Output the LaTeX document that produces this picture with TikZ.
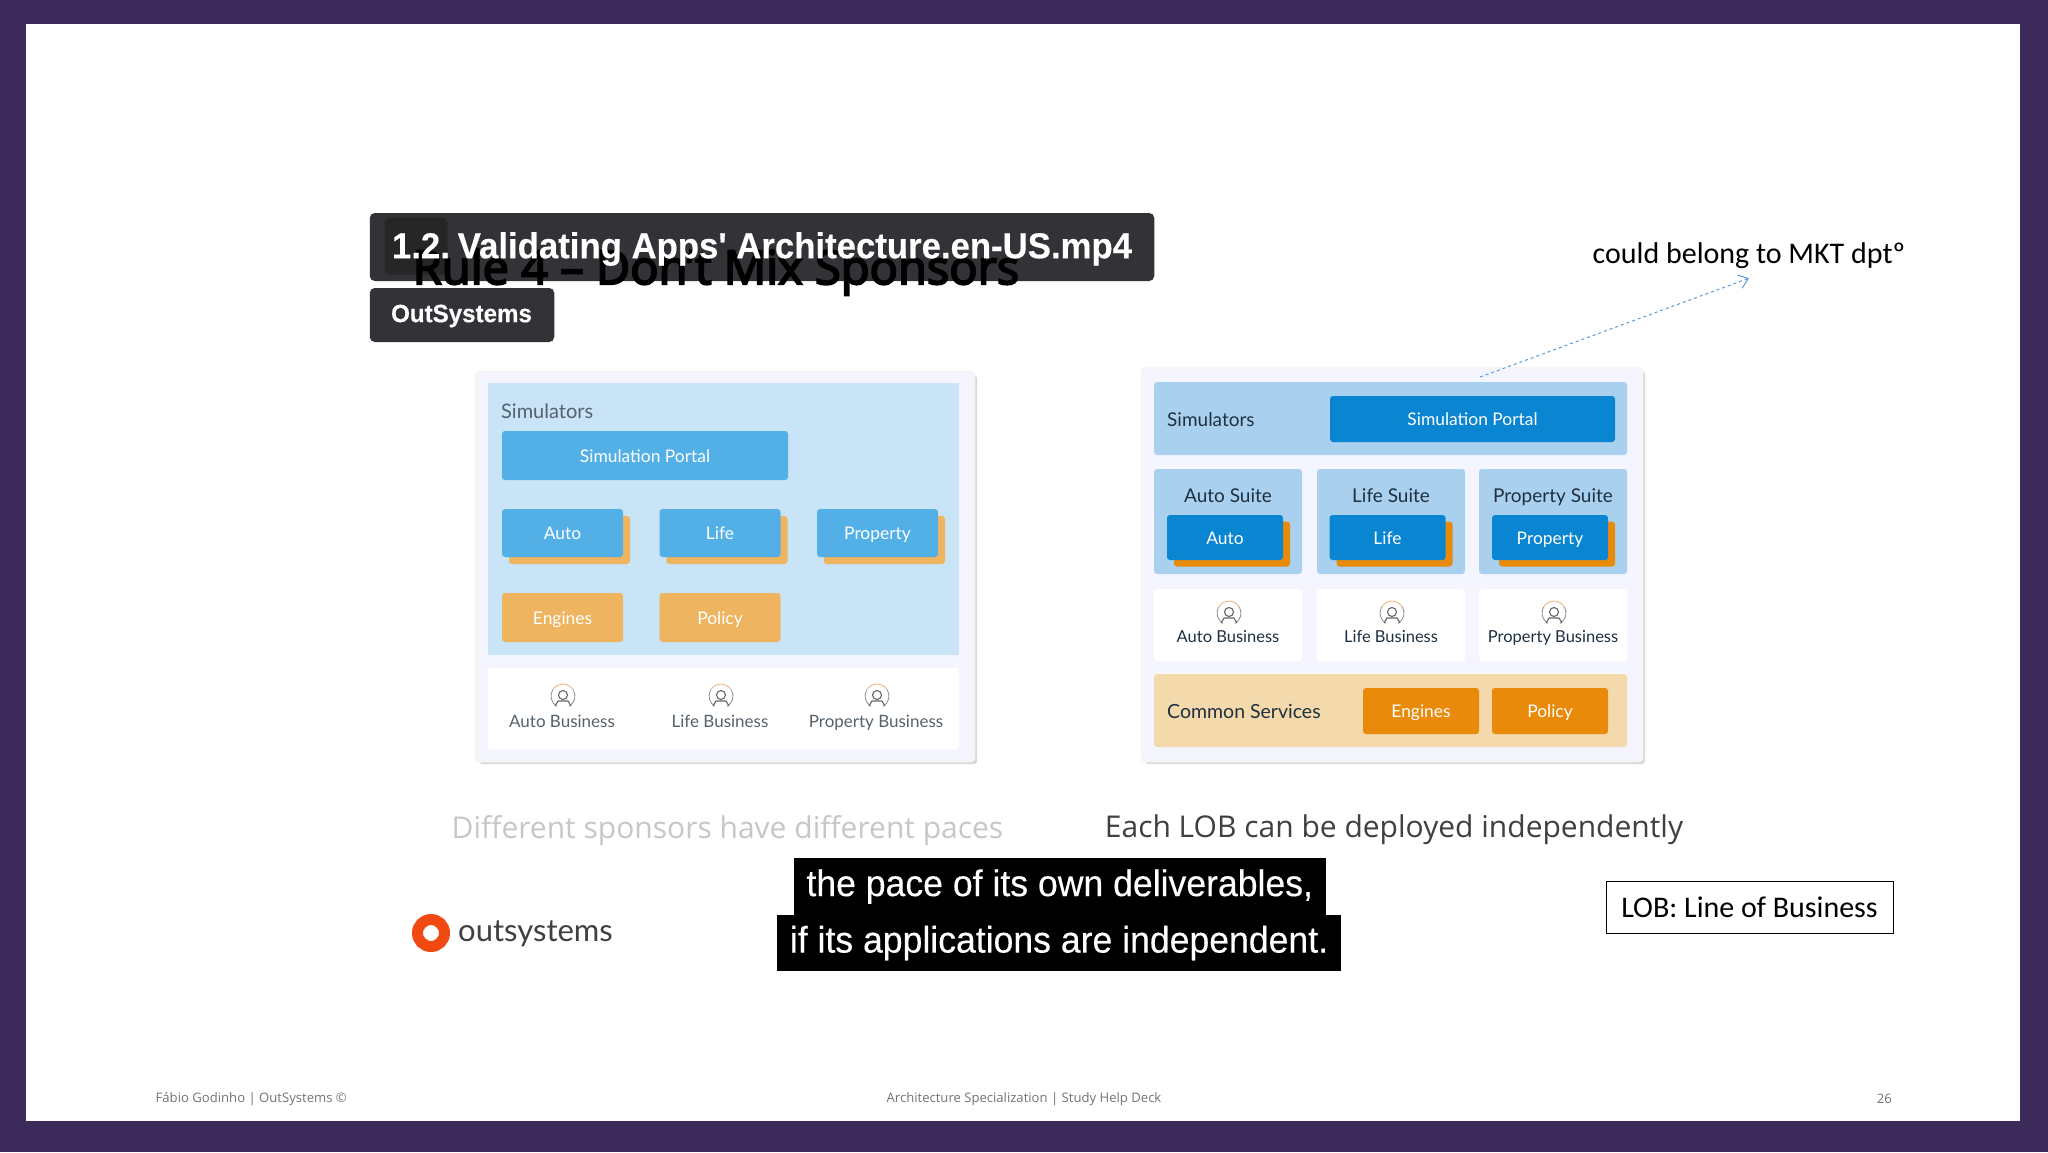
\documentclass[tikz,border=0pt]{standalone}
\usepackage{fontspec}
\usetikzlibrary{arrows.meta,shadows}
\newfontfamily\latofont{Lato}
\newfontfamily\carlitofont{Carlito}
\newfontfamily\opensansfont{Open Sans}
\newfontfamily\headfont[FakeBold=4]{Open Sans}
\newfontfamily\arialfont[FakeStretch=.962,FakeBold=.3]{Liberation Sans}
\newfontfamily\namefont[FakeStretch=.965,FakeBold=.3]{Liberation Sans Bold}
\definecolor{framecol}{HTML}{3B2A5A}
\definecolor{boxdark}{HTML}{333236}
\definecolor{palepanel}{HTML}{C8E4F6}
\definecolor{palebtn}{HTML}{52B0E6}
\definecolor{paleorange}{HTML}{EFB45F}
\definecolor{palelabel}{HTML}{56626C}
\definecolor{deeppanel}{HTML}{A9D1EF}
\definecolor{deepbtn}{HTML}{0A85D1}
\definecolor{deeporange}{HTML}{EA8A0A}
\definecolor{sandpanel}{HTML}{F3D9AB}
\definecolor{deeplabel}{HTML}{1F3040}
\definecolor{logored}{HTML}{F04A12}
\definecolor{notearrow}{HTML}{5B9BD5}
\tikzset{
  block/.style={inner sep=0pt,rounded corners=3pt,text height=13pt,text depth=0pt,font=\latofont\fontsize{17.4}{20}\selectfont},
  card/.style={block,fill=white!96!blue,draw=black!4,line width=2.5pt,drop shadow={shadow xshift=3pt,shadow yshift=-3pt,opacity=.3,fill=gray}},
  lbl/.style={inner sep=0pt,text height=14pt,text depth=0pt,font=\latofont\fontsize{19}{22}\selectfont},
  business/.style={inner sep=0pt,text height=13pt,text depth=0pt,font=\latofont\fontsize{17}{20}\selectfont},
  footer/.style={inner sep=0pt,text=black!55,font=\opensansfont\fontsize{13.1}{15}\selectfont},
  caption/.style={inner sep=0pt,font=\opensansfont\fontsize{30}{34}\selectfont},
  subtitle/.style={inner sep=0pt,fill=black,text=white,font=\arialfont\fontsize{37}{40}\selectfont},
  darkbox/.style={inner sep=0pt,rounded corners=5pt,fill=boxdark},
  personicon/.pic={
    \draw[line width=.8pt,black!45] (0,0) +(-60:12pt) arc[start angle=-60,end angle=30,radius=12pt];
    \draw[line width=.8pt,black!45] (0,0) +(150:12pt) arc[start angle=150,end angle=240,radius=12pt];
    \draw[line width=.8pt,orange!50!brown!60] (0,0) +(30:12pt) arc[start angle=30,end angle=150,radius=12pt];
    \draw[line width=1.1pt,black!60] (0,-1) circle (4.5pt);
    \draw[line width=1.1pt,black!60] (-8,10) -- (-5,5) -- (5,5) -- (8,10);
  }
}
\begin{document}
\begin{tikzpicture}[x=1pt,y=-1pt]
  % frame and slide
  \fill[framecol] (0,0) rectangle (2048,1152);
  \fill[white] (26,24) rectangle (2020,1121);

  % left card
  \node[card,minimum width=498pt,minimum height=389pt] (lcard) at (725,566.5) {};
  \node[block,fill=palepanel,rounded corners=0pt,minimum width=471pt,minimum height=272pt] (lpanel) at (723.5,519) {};
  \node[block,fill=white,minimum width=471pt,minimum height=81pt] (lrow) at (723.5,708.5) {};
  \node[lbl,anchor=west,text=palelabel,font=\latofont\fontsize{20}{22}\selectfont] (lsim) at (501,411) {Simulators};
  \node[block,fill=palebtn,text=white,minimum width=286pt,minimum height=49pt] (lportal) at (645,455.5) {Simulation Portal};
  \foreach \nm/\px/\txt in {auto/562.5/Auto,life/720/Life,prop/877.5/Property}{
    \node[block,fill=paleorange,minimum width=121pt,minimum height=48pt] (l\nm back) at (\px+7,540) {};
    \node[block,fill=palebtn,text=white,minimum width=121pt,minimum height=48pt] (l\nm) at (\px,533) {\txt};
  }
  \node[block,fill=paleorange,text=white,minimum width=121pt,minimum height=49pt] (lengines) at (562.5,617.5) {Engines};
  \node[block,fill=paleorange,text=white,minimum width=121pt,minimum height=49pt] (lpolicy) at (720,617.5) {Policy};
  \foreach \nm/\px/\txt in {auto/562/Auto Business,life/720/Life Business,prop/876/Property Business}{
    \pic at (\px+1,696) {personicon};
    \node[business,text=palelabel] (l\nm biz) at (\px,721) {\txt};
  }

  % right card
  \node[card,minimum width=500pt,minimum height=393pt] (rcard) at (1392,564.5) {};
  \node[block,fill=deeppanel,minimum width=473pt,minimum height=73pt] (rpanel) at (1390.5,418.5) {};
  \node[lbl,anchor=west,text=deeplabel] (rsim) at (1167,419) {Simulators};
  \node[block,fill=deepbtn,text=white,minimum width=285pt,minimum height=46pt] (rportal) at (1472.5,419) {Simulation Portal};
  \foreach \nm/\px/\qx/\txt/\btn in {auto/1228/1225/Auto Suite/Auto,life/1391/1387.5/Life Suite/Life,prop/1553/1550/Property Suite/Property}{
    \node[block,fill=deeppanel,minimum width=148pt,minimum height=105pt] (r\nm suite) at (\px,521.5) {};
    \node[lbl,text=deeplabel] (r\nm title) at (\px,495) {\txt};
    \node[block,fill=deeporange,minimum width=116pt,minimum height=45pt] (r\nm back) at (\qx+7,544) {};
    \node[block,fill=deepbtn,text=white,minimum width=116pt,minimum height=45pt] (r\nm) at (\qx,537.5) {\btn};
  }
  \foreach \nm/\px/\txt in {auto/1228/Auto Business,life/1391/Life Business,prop/1553/Property Business}{
    \node[block,fill=white,minimum width=148pt,minimum height=72pt] (r\nm row) at (\px,625) {};
    \pic at (\px+1,613) {personicon};
    \node[business,text=deeplabel,font=\latofont\fontsize{16.5}{20}\selectfont] (r\nm biz) at (\px,636) {\txt};
  }
  \node[block,fill=sandpanel,minimum width=473pt,minimum height=73pt] (rcommon) at (1390.5,710.5) {};
  \node[lbl,anchor=west,text=deeplabel,font=\latofont\fontsize{19.5}{22}\selectfont] (rcomlabel) at (1167,711) {Common Services};
  \node[block,fill=deeporange,text=white,minimum width=116pt,minimum height=46pt] (rengines) at (1421,711) {Engines};
  \node[block,fill=deeporange,text=white,minimum width=116pt,minimum height=46pt] (rpolicy) at (1550,711) {Policy};

  % note and its arrow
  \node[inner sep=0pt,minimum height=44pt,font=\carlitofont\fontsize{30}{32}\selectfont] (mktnote) at (1749,256) {could belong to MKT dptº};
  \coordinate (mktstart) at (1480,377);
  \draw[notearrow,line width=1pt,dashed,-{Straight Barb[length=9pt,width=14pt]}] (mktstart) -- (mktnote.south);

  % heading and player labels
  \node[darkbox,minimum width=784.5pt,minimum height=68pt] (namebox) at (762,247) {};
  \node[darkbox,minimum width=184.5pt,minimum height=54pt] (orgbox) at (462,315) {};
  \node[darkbox,fill=black!85,minimum width=63pt,minimum height=57pt] (ghostbox) at (416,246) {};
  \node[inner sep=0pt,text=black,font=\headfont\fontsize{47}{50}\selectfont] (heading) at (716,272) {Rule 4 – Don’t Mix Sponsors};
  \node[inner sep=0pt,text=white,font=\namefont\fontsize{36}{40}\selectfont] (filename) at (762,249) {1.2.\hspace{-5pt} Validating Apps' Architecture.en-US.mp4};
  \node[inner sep=0pt,text=white,font=\namefont\fontsize{25}{28}\selectfont] (orgname) at (461.5,316) {OutSystems};

  % captions
  \node[caption,text=black!22] (capleft) at (727.5,831) {Different sponsors have different paces};
  \node[caption,text=black!75] (capright) at (1394,830) {Each LOB can be deployed independently};
  \node[subtitle,minimum width=532.5pt,minimum height=57pt] (subone) at (1059.75,886.5) {\raisebox{-2pt}{the pace of its own deliverables,}};
  \node[subtitle,minimum width=564pt,minimum height=56pt] (subtwo) at (1059,943) {\raisebox{-2.5pt}{if its applications are independent.}};
  \node[draw=black,line width=1pt,inner sep=0pt,minimum width=287pt,minimum height=52pt,font=\carlitofont\fontsize{30}{34}\selectfont] (lobnote) at (1749.5,907) {LOB: Line of Business};

  % logo
  \draw[logored,line width=11pt] (431,933) circle (13.5pt);
  \node[inner sep=0pt,anchor=west,text=black!75,font=\latofont\fontsize{31}{36}\selectfont] (logotext) at (458,934) {outsystems};

  % footer
  \node[footer,anchor=west] (footauthor) at (155.5,1099) {Fábio Godinho | OutSystems ©};
  \node[footer] (footdeck) at (1024,1099) {Architecture Specialization | Study Help Deck};
  \node[footer,anchor=east] (footpage) at (1892,1099) {26};
\end{tikzpicture}
\end{document}
